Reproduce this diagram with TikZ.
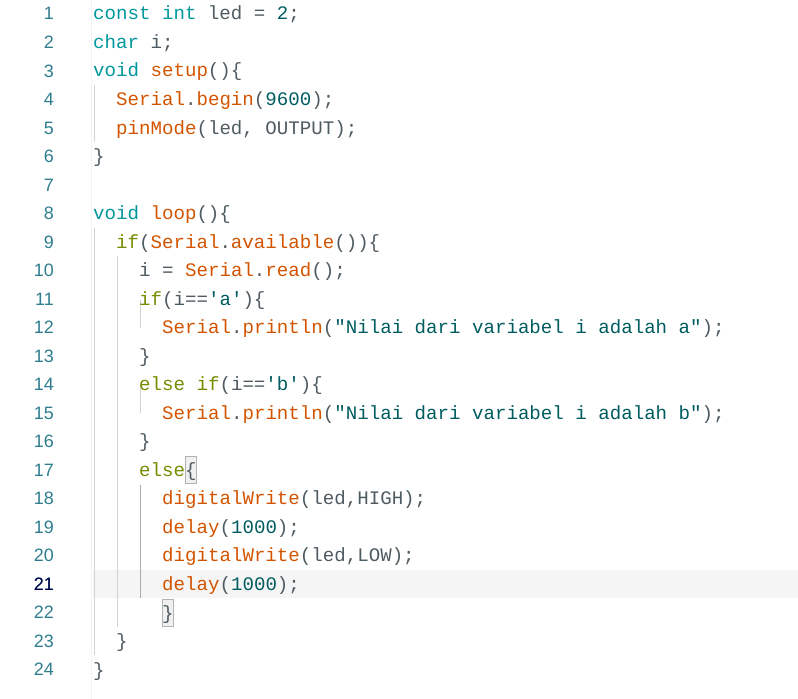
\documentclass[tikz,border=0pt]{standalone}
\usepackage{fontspec}
\setmainfont{Liberation Sans}
\newfontfamily\codefont{Liberation Mono}
\definecolor{kwcol}{HTML}{00979D}
\definecolor{fncol}{HTML}{D35400}
\definecolor{ctlcol}{HTML}{728E00}
\definecolor{numcol}{HTML}{005C5F}
\definecolor{txtcol}{HTML}{4E5B61}
\definecolor{lncol}{HTML}{2E7D8E}
\newcommand{\kw}[1]{\textcolor{kwcol}{#1}}
\newcommand{\fn}[1]{\textcolor{fncol}{#1}}
\newcommand{\ctl}[1]{\textcolor{ctlcol}{#1}}
\newcommand{\nm}[1]{\textcolor{numcol}{#1}}
\newcommand{\sq}{\symbol{39}}
\newcommand{\dq}{\symbol{34}}
\tikzset{
  codeline/.style={anchor=base west,inner sep=0pt,text=txtcol,font=\codefont\fontsize{19.2}{20}\selectfont},
  linenum/.style={anchor=base east,inner sep=0pt,text=lncol,font=\fontsize{18}{20}\selectfont},
  guide/.style={gray!35,line width=1bp},
  bracebox/.style={draw=gray!60,fill=gray!12,line width=0.8bp}
}
\begin{document}
\begin{tikzpicture}[x=1bp,y=-1bp]
  \useasboundingbox (0,0) rectangle (798,699);
  % gutter and current line
  \draw[gray!10] (91,0) -- (91,699);
  \fill[gray!8] (93,570) rectangle (798,598);
  \fill[bracebox] (185,456) rectangle (196.5,483);
  \fill[bracebox] (162,599) rectangle (173.5,626);
  \draw[bracebox,fill=none] (185,456) rectangle (196.5,483);
  \draw[bracebox,fill=none] (162,599) rectangle (173.5,626);
  % indent guides
  \draw[guide] (94,85) -- (94,142);
  \draw[guide] (94,228) -- (94,655);
  \draw[guide] (117,256) -- (117,627);
  \draw[guide] (140,300) -- (140,328);
  \draw[guide] (140,385) -- (140,413);
  \draw[gray!65,line width=1bp] (140,485) -- (140,598);
  % line numbers
  \foreach\i in {1,...,24} {
    \node[linenum] (n\i) at (54,{20+(\i-1)*28.52}) {\i};
  }
  \node[linenum,text=blue!30!black] at (n21.base east) {21};
  % code
  \node[codeline] (l1) at (93,20) {\kw{const} \kw{int} led = \nm{2};};
  \node[codeline] (l2) at (93,48.5) {\kw{char} i;};
  \node[codeline] (l3) at (93,77) {\kw{void} \fn{setup}()\{};
  \node[codeline] (l4) at (116,105.6) {\fn{Serial}.\fn{begin}(\nm{9600});};
  \node[codeline] (l5) at (116,134.1) {\fn{pinMode}(led, OUTPUT);};
  \node[codeline] (l6) at (93,162.6) {\}};
  \node[codeline] (l8) at (93,219.6) {\kw{void} \fn{loop}()\{};
  \node[codeline] (l9) at (116,248.2) {\ctl{if}(\fn{Serial}.\fn{available}())\{};
  \node[codeline] (l10) at (139,276.7) {i = \fn{Serial}.\fn{read}();};
  \node[codeline] (l11) at (139,305.2) {\ctl{if}(i==\nm{\sq a\sq})\{};
  \node[codeline] (l12) at (162,333.7) {\fn{Serial}.\fn{println}(\nm{\dq Nilai dari variabel i adalah a\dq});};
  \node[codeline] (l13) at (139,362.3) {\}};
  \node[codeline] (l14) at (139,390.8) {\ctl{else} \ctl{if}(i==\nm{\sq b\sq})\{};
  \node[codeline] (l15) at (162,419.3) {\fn{Serial}.\fn{println}(\nm{\dq Nilai dari variabel i adalah b\dq});};
  \node[codeline] (l16) at (139,447.8) {\}};
  \node[codeline] (l17) at (139,476.3) {\ctl{else}\{};
  \node[codeline] (l18) at (162,504.9) {\fn{digitalWrite}(led,HIGH);};
  \node[codeline] (l19) at (162,533.4) {\fn{delay}(\nm{1000});};
  \node[codeline] (l20) at (162,561.9) {\fn{digitalWrite}(led,LOW);};
  \node[codeline] (l21) at (162,590.4) {\fn{delay}(\nm{1000});};
  \node[codeline] (l22) at (162,619) {\}};
  \node[codeline] (l23) at (116,647.5) {\}};
  \node[codeline] (l24) at (93,676) {\}};
\end{tikzpicture}
\end{document}
